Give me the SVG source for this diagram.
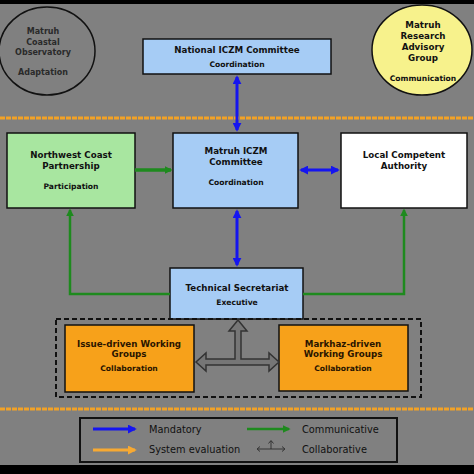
<svg xmlns="http://www.w3.org/2000/svg" width="474" height="474" viewBox="0 0 474 474">
<defs>
<style>
.t{font-family:"DejaVu Sans",Verdana,sans-serif;font-weight:bold;font-size:8.7px;text-anchor:middle;fill:#111}
.s{font-family:"DejaVu Sans",Verdana,sans-serif;font-weight:bold;font-size:7.6px;text-anchor:middle;fill:#111}
.lg{font-family:"DejaVu Sans",Verdana,sans-serif;font-size:9.8px;fill:#111}
.box{stroke:#111;stroke-width:1.5}
.blue{stroke:#1515f0;stroke-width:3;fill:none}
.green{stroke:#1e8a1e;stroke-width:2.5;fill:none}
.orl{stroke:#f2a227;stroke-width:3;stroke-dasharray:5 1;fill:none}
</style>
<marker id="ab" viewBox="0 0 10 10" refX="8" refY="5" markerWidth="9" markerHeight="9" markerUnits="userSpaceOnUse" orient="auto-start-reverse"><path d="M0,0 L10,5 L0,10 z" fill="#1515f0"/></marker>
<marker id="ag" viewBox="0 0 10 10" refX="8" refY="5" markerWidth="8" markerHeight="8" markerUnits="userSpaceOnUse" orient="auto-start-reverse"><path d="M0,0 L10,5 L0,10 z" fill="#1e8a1e"/></marker>
<marker id="ao" viewBox="0 0 10 10" refX="8" refY="5" markerWidth="9" markerHeight="9" markerUnits="userSpaceOnUse" orient="auto"><path d="M0,0 L10,5 L0,10 z" fill="#f7a932"/></marker>
</defs>
<rect width="474" height="474" fill="#808080"/>
<rect x="0" y="0" width="474" height="4" fill="#000"/>
<rect x="0" y="465" width="474" height="9" fill="#000"/>
<path class="orl" d="M0,118 H474"/>
<path class="orl" d="M0,409 H474"/>

<g id="observatory">
<ellipse cx="47" cy="51" rx="48" ry="44" fill="#808080" stroke="#111" stroke-width="1.5"/>
<text class="s" x="43" y="34" style="font-size:8px;fill:#2a2a2a">Matruh</text>
<text class="s" x="43" y="44.5" style="font-size:8px;fill:#2a2a2a">Coastal</text>
<text class="s" x="43" y="55" style="font-size:8px;fill:#2a2a2a">Observatory</text>
<text class="s" x="43" y="75" style="font-size:8px;fill:#2a2a2a">Adaptation</text>
</g>
<g id="advisory">
<ellipse cx="422" cy="50" rx="50" ry="45" fill="#f7f28c" stroke="#111" stroke-width="1.5"/>
<text class="t" x="423" y="28">Matruh</text>
<text class="t" x="423" y="39">Research</text>
<text class="t" x="423" y="50">Advisory</text>
<text class="t" x="423" y="61">Group</text>
<text class="s" x="423" y="81">Communication</text>
</g>
<g id="national">
<rect class="box" x="143" y="39" width="188" height="35" fill="#a6ccf5"/>
<text class="t" x="237" y="53">National ICZM Committee</text>
<text class="s" x="237" y="67">Coordination</text>
</g>
<g id="northwest">
<rect class="box" x="7" y="133" width="128" height="75" fill="#a8e6a0"/>
<text class="t" x="71" y="158">Northwest Coast</text>
<text class="t" x="71" y="168.5">Partnership</text>
<text class="s" x="71" y="189">Participation</text>
</g>
<g id="matruh">
<rect class="box" x="173" y="133" width="125" height="75" fill="#a6ccf5"/>
<text class="t" x="236" y="154">Matruh ICZM</text>
<text class="t" x="236" y="165">Committee</text>
<text class="s" x="236" y="185">Coordination</text>
</g>
<g id="local">
<rect class="box" x="341" y="133" width="126" height="75" fill="#fff"/>
<text class="t" x="404" y="158">Local Competent</text>
<text class="t" x="404" y="169">Authority</text>
</g>
<g id="technical">
<rect class="box" x="170" y="268" width="133" height="51" fill="#a6ccf5"/>
<text class="t" x="237" y="291">Technical Secretariat</text>
<text class="s" x="237" y="305">Executive</text>
</g>
<g id="workgroups">
<rect x="56" y="319" width="365" height="78" fill="none" stroke="#111" stroke-width="2" stroke-dasharray="5 3"/>
<g id="issue">
<rect class="box" x="65" y="325" width="129" height="67" fill="#f7a11a"/>
<text class="t" x="129" y="347" style="fill:#2a1500">Issue-driven Working</text>
<text class="t" x="129" y="357" style="fill:#2a1500">Groups</text>
<text class="s" x="129" y="371" style="fill:#2a1500">Collaboration</text>
</g>
<g id="markhaz">
<rect class="box" x="279" y="325" width="129" height="66" fill="#f7a11a"/>
<text class="t" x="343" y="347" style="fill:#2a1500">Markhaz-driven</text>
<text class="t" x="343" y="357" style="fill:#2a1500">Working Groups</text>
<text class="s" x="343" y="371" style="fill:#2a1500">Collaboration</text>
</g>
</g>

<g id="connectors">
<path class="blue" d="M237,77 V130" marker-start="url(#ab)" marker-end="url(#ab)"/>
<path class="blue" d="M237,211 V265" marker-start="url(#ab)" marker-end="url(#ab)"/>
<path class="blue" d="M301,170 H338" marker-start="url(#ab)" marker-end="url(#ab)"/>
<path class="green" d="M135,170 H171" marker-end="url(#ag)" style="stroke-width:3.5"/>
<path class="green" d="M170,294 H70 V210" marker-end="url(#ag)"/>
<path class="green" d="M303,294 H404 V210" marker-end="url(#ag)"/>
<polygon points="238,320 247,331 241,331 241,359 269,359 269,353 279,362 269,371 269,365 206,365 206,371 196,362 206,353 206,359 235,359 235,331 229,331" fill="#767676" stroke="#333" stroke-width="1.5" stroke-linejoin="miter"/>
</g>

<g id="legend">
<rect x="80" y="418" width="317" height="44" fill="#808080" stroke="#111" stroke-width="2"/>
<path class="blue" d="M93,429 H135" marker-end="url(#ab)"/>
<text class="lg" x="149" y="433">Mandatory</text>
<path d="M93,450 H135" stroke="#f7a932" stroke-width="3" marker-end="url(#ao)"/>
<text class="lg" x="149" y="453">System evaluation</text>
<path class="green" d="M247,429 H289" marker-end="url(#ag)"/>
<text class="lg" x="302" y="433">Communicative</text>
<g stroke="#222" stroke-width="0.8" fill="none">
<path d="M258,449 H284 M271,449 V441 M268.5,443.5 L271,440.5 L273.5,443.5 M260,446.5 L257,449 L260,451.5 M282,446.5 L285,449 L282,451.5"/>
</g>
<text class="lg" x="302" y="453">Collaborative</text>
</g>
</svg>
